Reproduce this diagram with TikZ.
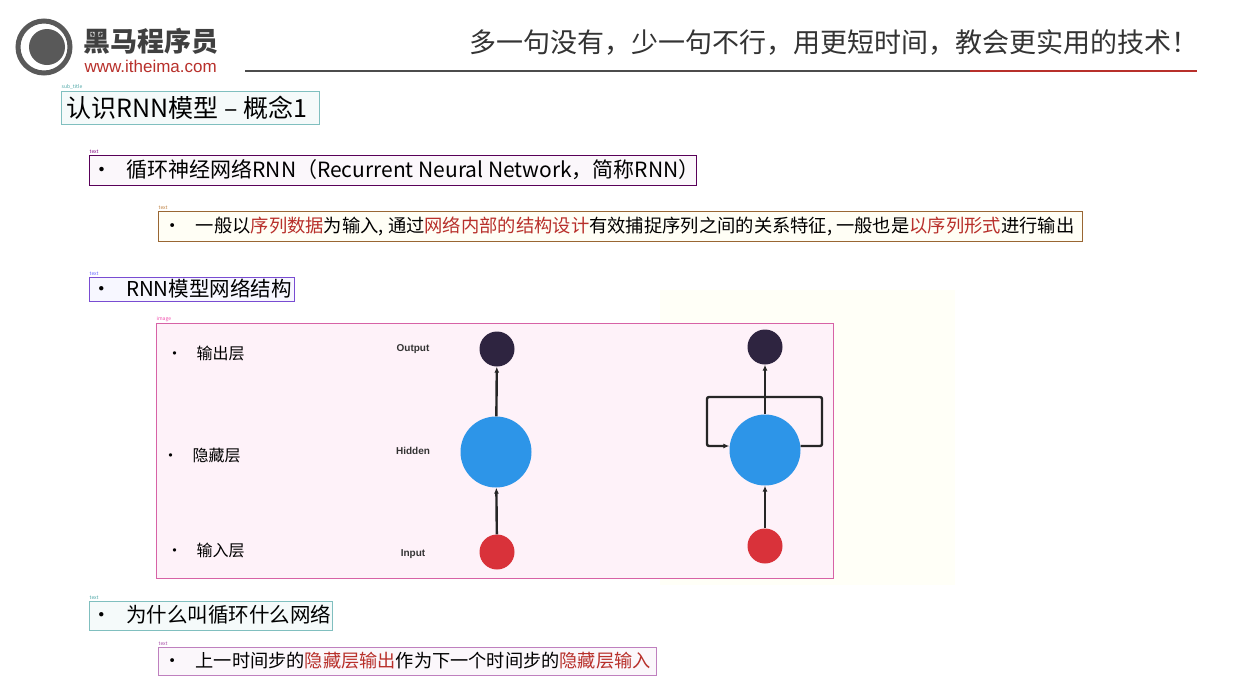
\documentclass[tikz,border=0pt]{standalone}
\usepackage{fontspec}
\setmainfont{Noto Sans CJK SC}
\newfontfamily\lat{Liberation Sans}
\usetikzlibrary{arrows.meta}
\begin{document}
\begin{tikzpicture}[x=1pt,y=-1pt,
  lbl/.style={font=\fontsize{5}{5}\selectfont,anchor=south west,inner sep=0.5pt},
  bx/.style={draw,line width=0.9pt},
  neur/.style={circle,inner sep=0pt},
  arr/.style={line width=2.4pt,draw=black!85,-{Latex[length=6pt,width=5pt]}}]
\definecolor{rdc}{HTML}{B8302B}
\useasboundingbox (0,0) rectangle (1242,683);
\fill[white] (0,0) rectangle (1242,683);
% logo
\node[circle,draw=black!65,line width=5pt,fill=white,minimum size=52pt] (logo) at (44,47) {};
\node[circle,fill=black!65,minimum size=36pt] (logoin) at (47,47) {};
\node[anchor=west,font=\bfseries\fontsize{27}{27}\selectfont,text=black!75] (brand) at (80,41) {黑马程序员};
\node[anchor=west,font=\lat\fontsize{17}{17}\selectfont,text=rdc] (url) at (81,66) {www.itheima.com};
\node[anchor=east,font=\fontsize{27}{27}\selectfont,text=black!80] (slogan) at (1202,43) {多一句没有，少一句不行，用更短时间，教会更实用的技术！};
\draw[black!70,line width=1.2pt] (245,71) -- (970,71);
\draw[rdc,line width=1.6pt] (970,71) -- (1197,71);
% sub title
\node[lbl,text=teal!70] (l0) at (61,90) {sub\_title};
\draw[bx,draw=teal!50,fill=teal!4] (61,91) rectangle (319,124);
\node[anchor=west,font=\fontsize{25}{25}\selectfont] (title) at (63,108) {认识RNN模型 – 概念1};
% text1
\node[lbl,text=violet] (l1) at (89,154) {text};
\draw[bx,draw=violet!70!black,fill=violet!3] (89,155) rectangle (696,185);
\node[anchor=west,font=\fontsize{21}{21}\selectfont] (t1) at (88,170) {•\hspace{14pt}循环神经网络RNN（Recurrent Neural Network，简称RNN）};
% text2
\node[lbl,text=brown] (l2) at (158,210) {text};
\draw[bx,draw=brown!80!black,fill=yellow!4] (158,211) rectangle (1082,241);
\node[anchor=west,font=\fontsize{18.3}{19}\selectfont] (t2) at (160,226) {•\hspace{14pt}一般以\textcolor{rdc}{序列数据}为输入, 通过\textcolor{rdc}{网络内部的结构设计}有效捕捉序列之间的关系特征, 一般也是\textcolor{rdc}{以序列形式}进行输出};
% text3
\node[lbl,text=blue!60] (l3) at (89,276) {text};
\draw[bx,draw=blue!50!violet!70,fill=blue!3] (89,277) rectangle (294,301);
\node[anchor=west,font=\fontsize{20.5}{21}\selectfont] (t3) at (88,289) {•\hspace{14pt}RNN模型网络结构};
% image
\fill[yellow!3] (660,290) rectangle (955,585);
\node[lbl,text=magenta!70] (l4) at (156,322) {image};
\draw[bx,draw=magenta!60!violet!70,fill=magenta!5] (156,323) rectangle (833,578);
\node[anchor=west,font=\fontsize{16}{16}\selectfont] (b1) at (163,353) {•\hspace{14pt}输出层};
\node[anchor=west,font=\fontsize{16}{16}\selectfont] (b2) at (159,455) {•\hspace{14pt}隐藏层};
\node[anchor=west,font=\fontsize{16}{16}\selectfont] (b3) at (163,550) {•\hspace{14pt}输入层};
\node[font=\lat\bfseries\fontsize{10}{10}\selectfont,text=black!80] (lo) at (413,349) {Output};
\node[font=\lat\bfseries\fontsize{10}{10}\selectfont,text=black!80] (lh) at (413,451) {Hidden};
\node[font=\lat\bfseries\fontsize{10}{10}\selectfont,text=black!80] (li) at (413,554) {Input};
\definecolor{outc}{HTML}{2E2440}
\definecolor{hidc}{HTML}{2D95E8}
\definecolor{inc}{HTML}{D9323A}
\node[neur,fill=outc,minimum size=35pt] (o1) at (497,349) {};
\node[neur,fill=hidc,minimum size=71pt] (h1) at (496,452) {};
\node[neur,fill=inc,minimum size=35pt] (i1) at (497,552) {};
\draw[arr] (h1) -- (o1);
\draw[arr] (i1) -- (h1);
\node[neur,fill=outc,minimum size=35pt] (o2) at (765,347) {};
\node[neur,fill=hidc,minimum size=71pt] (h2) at (765,450) {};
\node[neur,fill=inc,minimum size=35pt] (i2) at (765,546) {};
\draw[arr] (h2) -- (o2);
\draw[arr] (i2) -- (h2);
\draw[arr,rounded corners=2pt] (h2.east |- 0,446) -- (822,446) -- (822,397) -- (707,397) -- (707,446) -- (h2.west |- 0,446);
% text4
\node[lbl,text=teal!70] (l5) at (89,600) {text};
\draw[bx,draw=teal!50,fill=teal!4] (89,601) rectangle (332,630);
\node[anchor=west,font=\fontsize{20.5}{21}\selectfont] (t4) at (88,615) {•\hspace{14pt}为什么叫循环什么网络};
% text5
\node[lbl,text=violet!70] (l6) at (158,646) {text};
\draw[bx,draw=violet!50,fill=violet!3] (158,647) rectangle (656,675);
\node[anchor=west,font=\fontsize{18.2}{19}\selectfont] (t5) at (160,661) {•\hspace{14pt}上一时间步的\textcolor{rdc}{隐藏层输出}作为下一个时间步的\textcolor{rdc}{隐藏层输入}};
\end{tikzpicture}
\end{document}
